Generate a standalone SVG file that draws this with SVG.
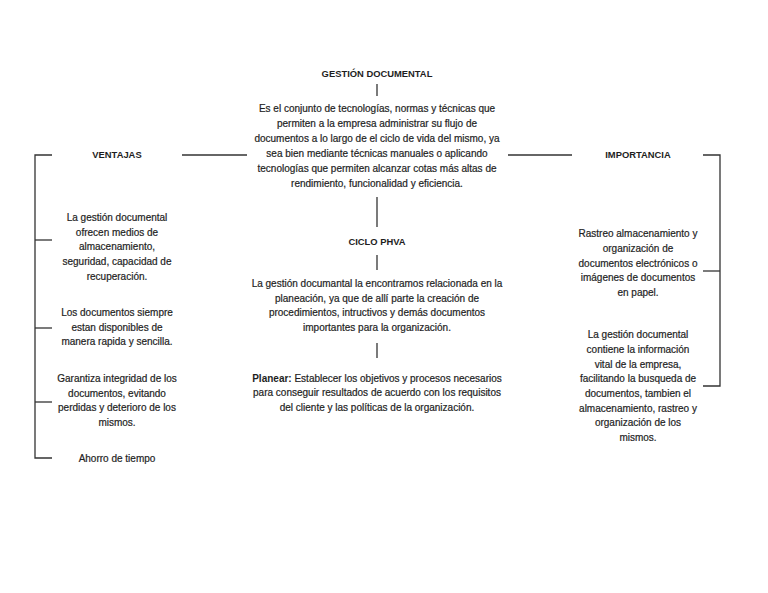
<svg xmlns="http://www.w3.org/2000/svg" width="768" height="593" viewBox="0 0 768 593">
<style>
text{font-family:"Liberation Sans","DejaVu Sans",sans-serif;font-size:10px;fill:#1e1e1e;stroke:#1e1e1e;stroke-width:0.2;text-anchor:middle}
.t{font-weight:bold;font-size:9.4px;stroke-width:0}
.c line,.c polyline{stroke:#333;stroke-width:1.3;fill:none}
</style>
<rect width="768" height="593" fill="#fff"/>
<g class="c" id="connectors">
<line x1="377" y1="84" x2="377" y2="96"/>
<line x1="377" y1="197" x2="377" y2="227"/>
<line x1="377" y1="255" x2="377" y2="270"/>
<line x1="377" y1="343" x2="377" y2="358"/>
<line x1="182" y1="155" x2="247" y2="155"/>
<line x1="508" y1="155" x2="572" y2="155"/>
<polyline points="52,155 35,155 35,458 52,458"/>
<line x1="35" y1="240" x2="52" y2="240"/>
<line x1="35" y1="328" x2="52" y2="328"/>
<line x1="35" y1="402" x2="52" y2="402"/>
<polyline points="703,155 720,155 720,386 703,386"/>
<line x1="703" y1="271" x2="720" y2="271"/>
</g>
<g id="gestion"><text class="t" x="377" y="77">GESTIÓN DOCUMENTAL</text></g>
<g id="definicion">
<text x="377" y="112">Es el conjunto de tecnologías, normas y técnicas que</text>
<text x="377" y="127">permiten a la empresa administrar su flujo de</text>
<text x="377" y="142">documentos a lo largo de el ciclo de vida del mismo, ya</text>
<text x="377" y="157">sea bien mediante  técnicas manuales o aplicando</text>
<text x="377" y="172">tecnologías que permiten alcanzar cotas más altas de</text>
<text x="377" y="187">rendimiento, funcionalidad y eficiencia.</text>
</g>
<g id="ciclo"><text class="t" x="377" y="245">CICLO PHVA</text></g>
<g id="ciclo-desc">
<text x="377" y="287">La gestión documantal la encontramos relacionada en la</text>
<text x="377" y="302">planeación, ya que de allí parte la creación de</text>
<text x="377" y="316">procedimientos, intructivos y demás documentos</text>
<text x="377" y="331">importantes para la organización.</text>
</g>
<g id="planear">
<text x="377" y="382"><tspan font-weight="bold" stroke-width="0">Planear:</tspan> Establecer los objetivos y procesos necesarios</text>
<text x="377" y="396">para conseguir resultados de acuerdo con los requisitos</text>
<text x="377" y="411">del cliente y las políticas de la organización.</text>
</g>
<g id="ventajas"><text class="t" x="117" y="158">VENTAJAS</text></g>
<g id="v1">
<text x="117" y="221">La gestión documental</text>
<text x="117" y="236">ofrecen medios de</text>
<text x="117" y="250">almacenamiento,</text>
<text x="117" y="265">seguridad, capacidad de</text>
<text x="117" y="280">recuperación.</text>
</g>
<g id="v2">
<text x="117" y="316">Los documentos siempre</text>
<text x="117" y="331">estan disponibles de</text>
<text x="117" y="345">manera rapida y sencilla.</text>
</g>
<g id="v3">
<text x="117" y="382">Garantiza integridad de los</text>
<text x="117" y="397">documentos, evitando</text>
<text x="117" y="411">perdidas y deterioro de los</text>
<text x="117" y="426">mismos.</text>
</g>
<g id="v4"><text x="117" y="462">Ahorro de tiempo</text></g>
<g id="importancia"><text class="t" x="638" y="158">IMPORTANCIA</text></g>
<g id="i1">
<text x="638" y="237">Rastreo almacenamiento y</text>
<text x="638" y="252">organización de</text>
<text x="638" y="267">documentos electrónicos o</text>
<text x="638" y="281">imágenes de documentos</text>
<text x="638" y="296">en papel.</text>
</g>
<g id="i2">
<text x="638" y="338">La gestión documental</text>
<text x="638" y="353">contiene la información</text>
<text x="638" y="368">vital de la empresa,</text>
<text x="638" y="382">facilitando la busqueda de</text>
<text x="638" y="397">documentos, tambien el</text>
<text x="638" y="412">almacenamiento, rastreo y</text>
<text x="638" y="426">organización de los</text>
<text x="638" y="441">mismos.</text>
</g>
</svg>
